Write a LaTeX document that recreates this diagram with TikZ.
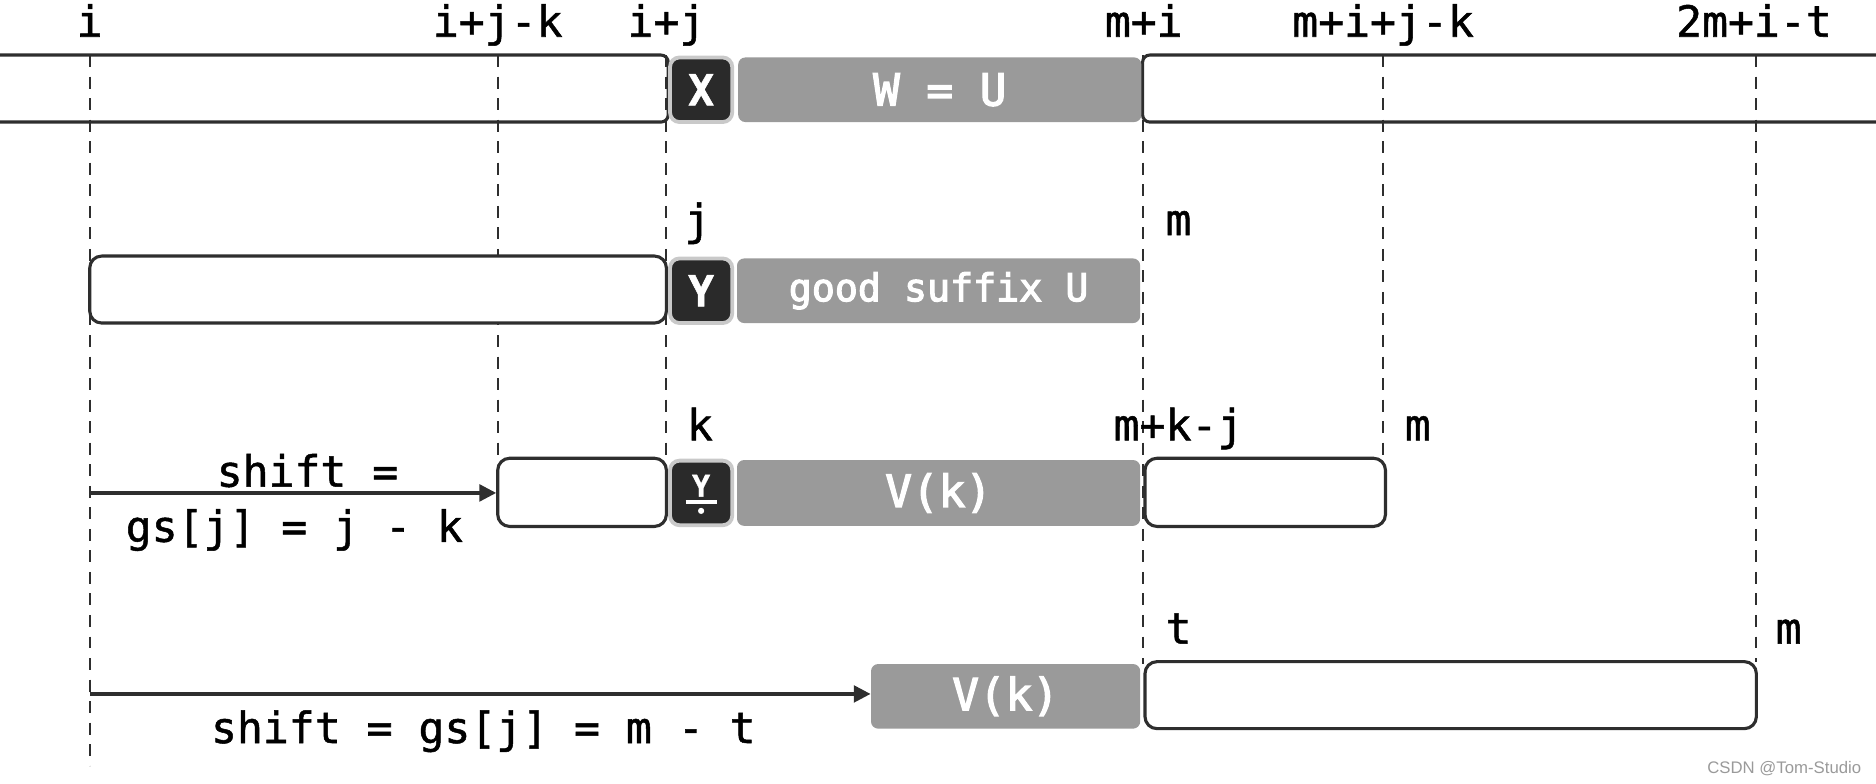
\documentclass[tikz,border=0pt]{standalone}
\usepackage{fontspec}
\setmainfont{DejaVu Sans}
\newfontfamily\lbl[FakeBold=1.2]{DejaVu Sans Mono}
\newfontfamily\boxfont[FakeBold=3]{DejaVu Sans Mono}
\newfontfamily\wmfont{Liberation Sans}
\usetikzlibrary{arrows.meta}
\definecolor{ink}{HTML}{2E2E2E}
\definecolor{boxgray}{HTML}{9A9A9A}
\definecolor{darkfill}{HTML}{2A2A2A}
\definecolor{rim}{HTML}{C9C9C9}
\definecolor{wm}{HTML}{9A9A9A}
\begin{document}
\begin{tikzpicture}[x=0.5pt,y=-0.5pt,
  guide/.style={draw=ink, line width=0.8pt, dash pattern=on 5pt off 4pt},
  bar/.style={draw=ink, line width=1.3pt, rounded corners=3pt, inner sep=0pt},
  whitebox/.style={draw=ink, line width=1.3pt, fill=white, rounded corners=5pt, inner sep=0pt},
  graybox/.style={fill=boxgray, rounded corners=3pt, text=white, inner sep=0pt,
    font=\boxfont\fontsize{18.5}{18.5}\selectfont},
  charbox/.style={fill=darkfill, draw=rim, line width=1.6pt, rounded corners=4pt, text=white,
    inner sep=0pt, minimum width=26pt, minimum height=27pt,
    font=\lbl\bfseries\fontsize{18}{18}\selectfont},
  lab/.style={font=\lbl\fontsize{18}{18}\selectfont, text=black, inner sep=0pt, anchor=base},
  arr/.style={draw=ink, line width=1.3pt, -{Triangle[length=7pt,width=7pt]}}
]
\useasboundingbox (0,0) rectangle (1568,655);

% guide coordinates
\coordinate (gi) at (75,46);
\coordinate (gijk) at (416,46);
\coordinate (gij) at (557,46);
\coordinate (gmi) at (955,46);
\coordinate (gmijk) at (1156,46);
\coordinate (g2m) at (1468,46);

% dashed guides
\draw[guide] (gi) -- (75,640);
\draw[guide] (gijk) -- (416,383);
\draw[guide] (gij) -- (557,383);
\draw[guide] (gmi) -- (955,555);
\draw[guide] (gmijk) -- (1156,383);
\draw[guide] (g2m) -- (1468,553);

% top labels
\node[lab] (li) at (75,30.7) {i};
\node[lab] (lijk) at (416,30.7) {i+j-k};
\node[lab] (lij) at (557,30.7) {i+j};
\node[lab] (lmi) at (956,30.7) {m+i};
\node[lab] (lmijk) at (1156,30.7) {m+i+j-k};
\node[lab] (l2m) at (1466,30.7) {2m+i-t};

% top bar
\node[bar, minimum width=289pt, minimum height=28pt] (tl) at (269.5,74) {};
\node[bar, minimum width=322pt, minimum height=28pt] (tr) at (1277,74) {};
\node[charbox] (x) at (586,75) {X};
\node[graybox, minimum width=168.5pt, minimum height=27pt] (wu) at (785.5,75) {W = U};

% row 2
\node[lab] (lj) at (583,196.5) {j};
\node[lab] (lm2) at (985,196.5) {m};
\node[whitebox, minimum width=241pt, minimum height=28pt] (r2w) at (316,242) {};
\node[charbox] (y) at (586,243) {Y};
\node[graybox, minimum width=168.5pt, minimum height=27pt,
  font=\boxfont\fontsize{16}{16}\selectfont] (gs) at (784.5,243) {good suffix U};

% row 3
\node[lab] (lk) at (585,368) {k};
\node[lab] (lmkj) at (985,368) {m+k-j};
\node[lab] (lm3) at (1185,368) {m};
\node[whitebox, minimum width=70.5pt, minimum height=28.5pt] (r3a) at (486.5,411.5) {};
\node[charbox] (yen) at (586,412) {};
\node[font=\lbl\bfseries\fontsize{12.5}{12.5}\selectfont, text=white, inner sep=0pt] (yenY) at (586,406) {Y};
\draw[white, line width=1.4pt] (573,419.5) -- (599,419.5);
\fill[white] (586,427) circle (1.3pt);
\node[graybox, minimum width=168.5pt, minimum height=27.5pt] (v3) at (784.5,412) {V(k)};
\node[whitebox, minimum width=100.5pt, minimum height=28.5pt] (r3b) at (1057.5,411.5) {};

\coordinate (a3s) at (75,412);
\draw[arr] (a3s) -- (r3a.west |- a3s);
\node[lab] (s1) at (257,406.8) {shift =};
\node[lab] (s2) at (246,452.8) {gs[j] = j - k};

% row 4
\node[lab] (lt) at (985,538) {t};
\node[lab] (lm4) at (1495,538) {m};
\node[graybox, minimum width=112.5pt, minimum height=27pt] (v4) at (840.5,582) {V(k)};
\node[whitebox, minimum width=255.5pt, minimum height=28pt] (r4w) at (1212.5,581) {};
\coordinate (a4s) at (75,580);
\draw[arr] (a4s) -- (v4.west |- a4s);
\node[lab] (s3) at (404,621) {shift = gs[j] = m - t};

% watermark
\node[font=\wmfont\fontsize{7}{7}\selectfont, text=wm, anchor=east, inner sep=0pt] (wmk) at (1556,642) {CSDN @Tom-Studio};
\end{tikzpicture}
\end{document}
